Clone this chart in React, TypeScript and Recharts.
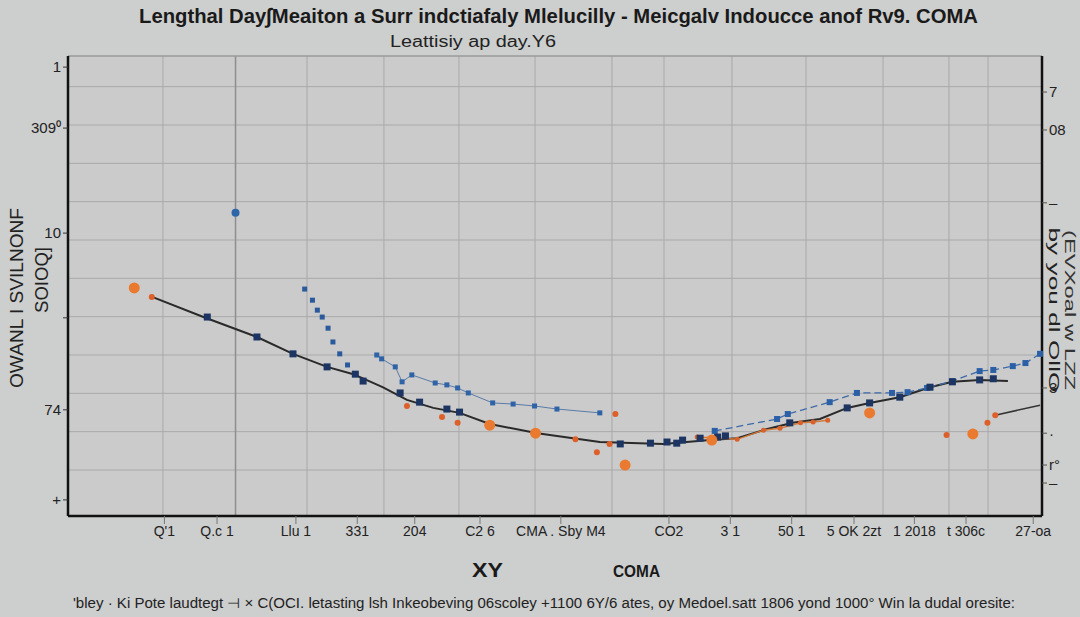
import React from 'react'
import {
  CartesianGrid,
  ComposedChart,
  ReferenceLine,
  Scatter,
  XAxis,
  YAxis,
} from 'recharts'

// chart values (x: 0-100, y: -0.2 to 11.8)
const trendX = [8.7, 13.9, 19.4, 23.1, 26.6, 29.3, 32.3, 34.8, 37.5, 40.2, 43.3, 48.2, 54.6, 61.1, 65.9, 68.7, 71.8, 74.4, 77.2, 80.0, 82.3, 85.4, 88.5, 90.8, 93.6, 96.5]
const trendY = [5.51, 4.99, 4.47, 4.03, 3.69, 3.5, 3.16, 2.83, 2.62, 2.49, 2.2, 1.96, 1.73, 1.68, 1.78, 1.83, 2.07, 2.23, 2.33, 2.62, 2.75, 2.9, 3.16, 3.3, 3.35, 3.32]

const xyX = [14.3, 19.4, 23.1, 26.6, 29.5, 30.3, 34.1, 36.1, 38.9, 40.2, 56.7, 59.8, 61.5, 62.5, 63.1, 64.9, 66.7, 67.5, 74.1, 80.0, 82.3, 85.4, 88.5, 90.8, 93.6, 95.0]
const xyY = [4.99, 4.47, 4.03, 3.69, 3.5, 3.32, 3.01, 2.77, 2.59, 2.51, 1.68, 1.7, 1.73, 1.7, 1.78, 1.83, 1.86, 1.89, 2.23, 2.62, 2.75, 2.9, 3.16, 3.3, 3.35, 3.38]

const steepX = [24.3, 25.1, 25.6, 26.1, 26.7, 27.2, 27.9, 28.7]
const steepY = [5.72, 5.43, 5.17, 4.99, 4.7, 4.34, 4.03, 3.74]

const midX = [31.7, 32.2, 33.6, 34.3, 35.3, 37.7, 38.9, 40.0, 41.1, 43.6, 45.7, 47.9, 50.2, 54.6]
const midY = [4.0, 3.9, 3.69, 3.3, 3.48, 3.27, 3.22, 3.14, 3.01, 2.75, 2.72, 2.67, 2.59, 2.49]

const riseX = [66.4, 72.8, 73.9, 78.2, 81.0, 84.6, 86.2, 88.2, 90.8, 93.6, 95.0, 97.0, 98.3, 99.8]
const riseY = [2.02, 2.33, 2.46, 2.77, 3.01, 3.01, 3.03, 3.14, 3.32, 3.58, 3.61, 3.71, 3.79, 4.03]

const comaBigX = [6.8, 43.3, 48.0, 57.2, 66.1, 82.3, 92.9]
const comaBigY = [5.75, 2.17, 1.96, 1.13, 1.78, 2.49, 1.94]

const comaSmallX = [8.6, 34.8, 38.4, 40.0, 52.1, 56.2, 55.6, 54.3, 90.2, 94.4, 95.2]
const comaSmallY = [5.51, 2.67, 2.38, 2.23, 1.8, 2.46, 1.68, 1.46, 1.91, 2.23, 2.43]

const comaTrackX = [64.6, 68.7, 71.4, 73.1, 75.2, 76.5, 78.0]
const comaTrackY = [1.86, 1.8, 2.04, 2.09, 2.23, 2.25, 2.3]

const tailX = [95.2, 99.8]
const tailY = [2.43, 2.69]

const outlierX = [17.2]
const outlierY = [7.71]

const xTicks = [9.9, 15.3, 23.4, 29.7, 35.6, 42.3, 50.6, 61.7, 68.0, 74.3, 80.7, 86.9, 92.2, 99.1]
const xTickLabels = ["Q'1", 'Q.c  1', 'Llu  1', '331', '204', 'C2  6', 'CMA . Sby M4', 'CO2', '3  1', '50 1', '5 OK 2zt', '1  2018', 't 306c', '27-oa']

const leftTicks = [11.51, 9.92, 7.18, 4.97, 2.57, 0.22]
const leftTickLabels = ['1', '309⁰', '10', '', '74', '+']

const rightTicks = [10.86, 9.87, 7.97, 3.14, 1.96, 1.13, 0.66]
const rightTickLabels = ['7', '08', '–', '3', '·', 'r°', '–']

const gridY = [1, 2, 3, 4, 5, 6, 7, 8, 9, 10, 11]
const gridX = [9.75, 24.54, 32.44, 40.14, 47.95, 55.85, 61.19, 68.17, 75.77, 83.68, 90.45, 94.46]

const zip = (xs: number[], ys: number[]) => xs.map((x, i) => ({ x, y: ys[i] }))

const FONT = '"Liberation Sans Narrow", "Liberation Sans", Arial, sans-serif'

const square = (s: number, fill: string) => (p: any) =>
  <rect x={p.cx - s / 2} y={p.cy - s / 2} width={s} height={s} fill={fill} />
const dot = (r: number, fill: string) => (p: any) =>
  <circle cx={p.cx} cy={p.cy} r={r} fill={fill} />
const none = () => <g />

export default function App() {
  return (
    <div style={{ position: 'fixed', left: 0, top: 0, width: 1080, height: 617, background: '#cdcece', overflow: 'hidden', fontFamily: FONT }}>
      <ComposedChart width={1080} height={617} margin={{ top: 56, right: 8, left: 38, bottom: 71 }}>
        <CartesianGrid
          yAxisId="L"
          stroke="#a9a9a9"
          horizontalValues={gridY}
          verticalValues={gridX}
          fill="#cbcbcb"
        />
        <ReferenceLine yAxisId="L" x={17.2} stroke="#8e8e8e" strokeWidth={1.5} />
        <ReferenceLine yAxisId="L" y={11.8} stroke="#9a9a9a" strokeWidth={1.5} />
        <XAxis
          type="number"
          dataKey="x"
          domain={[0, 100]}
          ticks={xTicks}
          interval={0}
          height={30}
          axisLine={{ stroke: '#111', strokeWidth: 2.5 }}
          tickLine={{ stroke: '#777' }}
          tickSize={8}
          tick={{ fill: '#222', fontSize: 14, fontFamily: FONT }}
          tickFormatter={(_v, i) => xTickLabels[i] ?? ''}
        />
        <YAxis
          yAxisId="L"
          type="number"
          dataKey="y"
          domain={[-0.2, 11.8]}
          ticks={leftTicks}
          interval={0}
          width={30}
          axisLine={{ stroke: '#111', strokeWidth: 2.5 }}
          tickLine={{ stroke: '#333' }}
          tickSize={5}
          tick={{ fill: '#222', fontSize: 15, fontFamily: FONT }}
          tickFormatter={(_v, i) => leftTickLabels[i] ?? ''}
        />
        <YAxis
          yAxisId="R"
          orientation="right"
          type="number"
          dataKey="y"
          domain={[-0.2, 11.8]}
          allowDataOverflow
          ticks={rightTicks}
          interval={0}
          width={30}
          axisLine={{ stroke: '#111', strokeWidth: 2.5 }}
          tickLine={{ stroke: '#555' }}
          tickSize={5}
          tick={{ fill: '#222', fontSize: 15, fontFamily: FONT }}
          tickFormatter={(_v, i) => rightTickLabels[i] ?? ''}
        />

        <Scatter yAxisId="L" name="trend" data={zip(trendX, trendY)} line={{ stroke: '#2a2a2a', strokeWidth: 2 }} lineType="joint" shape={none} isAnimationActive={false} />
        <Scatter yAxisId="R" name="tail" data={zip(tailX, tailY)} line={{ stroke: '#333', strokeWidth: 1.5 }} lineType="joint" shape={none} isAnimationActive={false} />
        <Scatter yAxisId="L" name="coma track" data={zip(comaTrackX, comaTrackY)} line={{ stroke: '#d47a3a', strokeWidth: 1.5 }} lineType="joint" shape={dot(2.5, '#d9612c')} isAnimationActive={false} />
        <Scatter yAxisId="L" name="mid" data={zip(midX, midY)} line={{ stroke: '#5a7aa8', strokeWidth: 1 }} lineType="joint" shape={square(5, '#2f63a8')} isAnimationActive={false} />
        <Scatter yAxisId="L" name="rise" data={zip(riseX, riseY)} line={{ stroke: '#3d6aa8', strokeWidth: 1.3, strokeDasharray: '7 4' }} lineType="joint" shape={square(6, '#2c60a6')} isAnimationActive={false} />
        <Scatter yAxisId="L" name="steep" data={zip(steepX, steepY)} shape={square(5, '#2a5a9c')} isAnimationActive={false} />
        <Scatter yAxisId="L" name="XY" data={zip(xyX, xyY)} shape={square(7, '#1d3563')} isAnimationActive={false} />
        <Scatter yAxisId="L" name="COMA small" data={zip(comaSmallX, comaSmallY)} shape={dot(3, '#dd5f2a')} isAnimationActive={false} />
        <Scatter yAxisId="L" name="COMA" data={zip(comaBigX, comaBigY)} shape={dot(5.5, '#ea7a30')} isAnimationActive={false} />
        <Scatter yAxisId="L" name="outlier" data={zip(outlierX, outlierY)} shape={dot(4, '#2f66a8')} isAnimationActive={false} />
      </ComposedChart>

      <svg width={1080} height={617} style={{ position: 'absolute', left: 0, top: 0, pointerEvents: 'none' }}>
        <text x={139} y={23} fontSize={21} fontWeight="bold" fill="#1a1a1a" textLength={839} lengthAdjust="spacingAndGlyphs" fontFamily={FONT}>
          Lengthal Day∫Meaiton a Surr indctiafaly Mlelucilly - Meicgalv Indoucce anof Rv9.  COMA
        </text>
        <text x={390} y={47} fontSize={16} fill="#222" textLength={166} lengthAdjust="spacingAndGlyphs" fontFamily={FONT}>
          Leattisiy ap day.Y6
        </text>
        <text transform="translate(23 298) rotate(-90)" textAnchor="middle" fontSize={18} fill="#222" textLength={180} lengthAdjust="spacingAndGlyphs" fontFamily={FONT}>
          OWANL I SVILNONF
        </text>
        <text transform="translate(48 280) rotate(-90)" textAnchor="middle" fontSize={18} fill="#222" textLength={66} lengthAdjust="spacingAndGlyphs" fontFamily={FONT}>
          SOIOQ]
        </text>
        <text transform="translate(1049 310) rotate(90)" textAnchor="middle" fontSize={15} fill="#222" textLength={165} lengthAdjust="spacingAndGlyphs" fontFamily={FONT}>
          by you dl OllO
        </text>
        <text transform="translate(1065 310) rotate(90)" textAnchor="middle" fontSize={14} fill="#333" textLength={160} lengthAdjust="spacingAndGlyphs" fontFamily={FONT}>
          (EVXoal w LZZ
        </text>
        <text x={472} y={577} fontSize={21} fontWeight="bold" fill="#1a1a1a" textLength={31} lengthAdjust="spacingAndGlyphs" fontFamily={FONT}>XY</text>
        <text x={613} y={577} fontSize={16} fontWeight="bold" fill="#1a1a1a" textLength={47} lengthAdjust="spacingAndGlyphs" fontFamily={FONT}>COMA</text>
        <text x={73} y={608} fontSize={14} fill="#222" textLength={942} lengthAdjust="spacingAndGlyphs" fontFamily={FONT}>
          'bley · Ki Pote laudtegt ⊣ × C(OCI. letasting lsh Inkeobeving 06scoley +1100 6Y/6 ates,  oy Medoel.satt 1806 yond 1000° Win la dudal oresite:
        </text>
      </svg>
    </div>
  )
}
